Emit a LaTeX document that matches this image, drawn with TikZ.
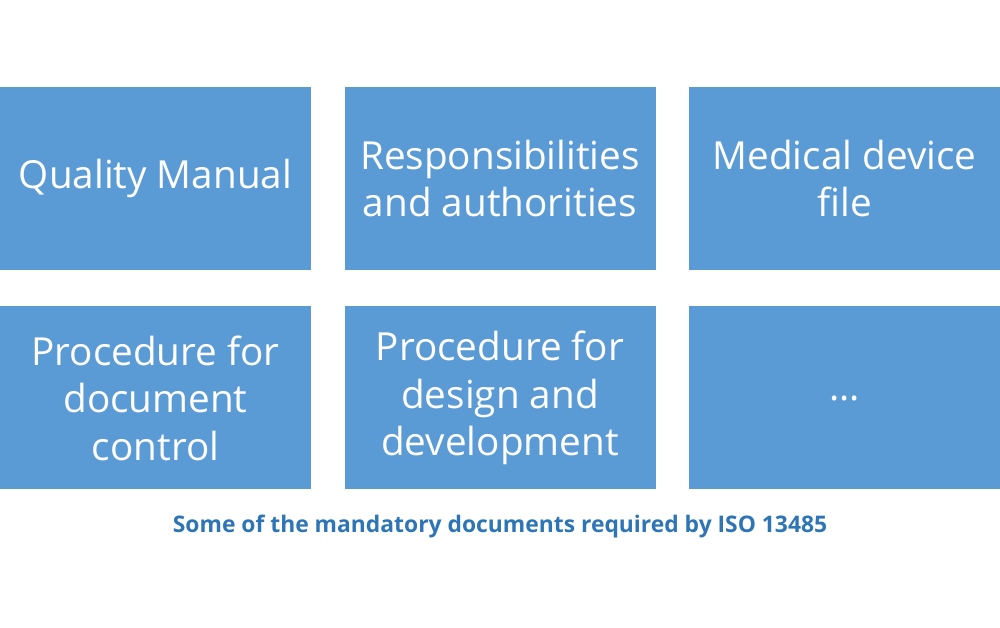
\documentclass[tikz,border=0pt]{standalone}
\usepackage{fontspec}
\setmainfont{Open Sans}
\definecolor{boxblue}{HTML}{5B9BD5}
\definecolor{captionblue}{HTML}{2E75B6}
\tikzset{
    docbox/.style={fill=boxblue, minimum width=6.22cm, minimum height=3.66cm,
        text=white, align=center, font=\fontsize{22}{27}\selectfont, inner sep=0pt}
}
\begin{document}
\begin{tikzpicture}
    \useasboundingbox (0,0) rectangle (20,12.56);
    % Prima riga
    \node[docbox] (manual) at (3.11,8.99) {Quality Manual};
    \node[docbox] (resp) at (10,8.99) {Responsibilities\\and authorities};
    \node[docbox] (file) at (16.89,8.99) {Medical device\\file};
    % Seconda riga
    \node[docbox] (doccontrol) at (3.11,4.6) {Procedure for\\document\\control};
    \node[docbox] (design) at (10,4.6) {Procedure for\\design and\\development};
    \node[docbox] (more) at (16.89,4.6) {...};
    % Didascalia
    \node[text=captionblue, font=\fontsize{13}{16}\selectfont\bfseries] (caption) at (10,2.02)
        {Some of the mandatory documents required by ISO 13485};
\end{tikzpicture}
\end{document}
